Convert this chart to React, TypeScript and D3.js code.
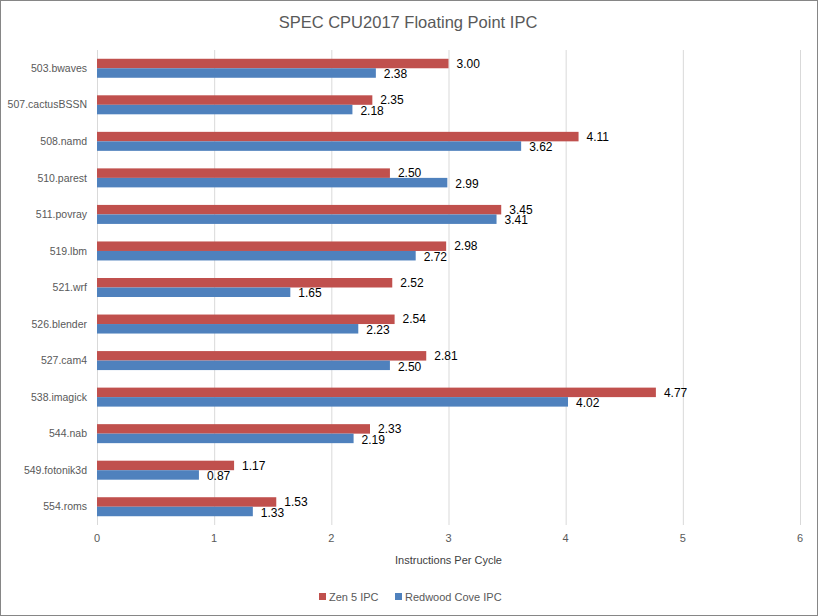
import { useEffect, useRef } from 'react';
import * as d3 from 'd3';

const benchmarks = [
  '503.bwaves',
  '507.cactusBSSN',
  '508.namd',
  '510.parest',
  '511.povray',
  '519.lbm',
  '521.wrf',
  '526.blender',
  '527.cam4',
  '538.imagick',
  '544.nab',
  '549.fotonik3d',
  '554.roms',
];
const zen5Ipc = [3.0, 2.35, 4.11, 2.5, 3.45, 2.98, 2.52, 2.54, 2.81, 4.77, 2.33, 1.17, 1.53];
const redwoodCoveIpc = [2.38, 2.18, 3.62, 2.99, 3.41, 2.72, 1.65, 2.23, 2.5, 4.02, 2.19, 0.87, 1.33];
const seriesNames = ['Zen 5 IPC', 'Redwood Cove IPC'];
const seriesColors = ['#C0504D', '#4F81BD'];
const xTicks = [0, 1, 2, 3, 4, 5, 6];

const FONT = '"Liberation Sans", Arial, sans-serif';

export default function App() {
  const ref = useRef<SVGSVGElement>(null);

  useEffect(() => {
    const svgElement = ref.current;
    if (!svgElement) {
      return;
    }
    const svg = d3.select(svgElement);
    svg.selectAll('*').remove();

    const width = 818;
    const height = 616;
    const left = 97;
    const right = 800;
    const top = 50;
    const bottom = 525;

    svg.attr('viewBox', `0 0 ${width} ${height}`).attr('width', width).attr('height', height);

    svg
      .append('rect')
      .attr('x', 0.5)
      .attr('y', 0.5)
      .attr('width', width - 1)
      .attr('height', height - 1)
      .attr('fill', '#ffffff')
      .attr('stroke', '#868686');

    const x = d3.scaleLinear().domain([0, 6]).range([left, right]);
    const y = d3.scaleBand<string>().domain(benchmarks).range([top, bottom]).paddingInner(0.48).paddingOuter(0.24);
    const inner = d3.scaleBand<number>().domain([0, 1]).range([0, y.bandwidth()]);

    // grid
    svg
      .append('g')
      .selectAll('line')
      .data(xTicks)
      .join('line')
      .attr('x1', (d) => x(d) + 0.5)
      .attr('x2', (d) => x(d) + 0.5)
      .attr('y1', top)
      .attr('y2', bottom)
      .attr('stroke', '#D9D9D9')
      .attr('stroke-width', 1);

    // title
    svg
      .append('text')
      .attr('x', 408)
      .attr('y', 28)
      .attr('text-anchor', 'middle')
      .attr('font-family', FONT)
      .attr('font-size', 16.5)
      .attr('fill', '#595959')
      .text('SPEC CPU2017 Floating Point IPC');

    // category labels
    svg
      .append('g')
      .selectAll('text')
      .data(benchmarks)
      .join('text')
      .attr('x', 87)
      .attr('y', (d) => (y(d) ?? 0) + y.bandwidth() / 2)
      .attr('dy', '0.35em')
      .attr('text-anchor', 'end')
      .attr('font-family', FONT)
      .attr('font-size', 10.5)
      .attr('fill', '#595959')
      .text((d) => d);

    // tick labels
    svg
      .append('g')
      .selectAll('text')
      .data(xTicks)
      .join('text')
      .attr('x', (d) => x(d))
      .attr('y', 542)
      .attr('text-anchor', 'middle')
      .attr('font-family', FONT)
      .attr('font-size', 11)
      .attr('fill', '#595959')
      .text((d) => String(d));

    svg
      .append('text')
      .attr('x', x(3))
      .attr('y', 564)
      .attr('text-anchor', 'middle')
      .attr('font-family', FONT)
      .attr('font-size', 11)
      .attr('fill', '#404040')
      .text('Instructions Per Cycle');

    const series = [zen5Ipc, redwoodCoveIpc];
    series.forEach((values, si) => {
      const g = svg.append('g');
      g.selectAll('rect')
        .data(values)
        .join('rect')
        .attr('x', x(0))
        .attr('y', (_d, i) => (y(benchmarks[i]) ?? 0) + (inner(si) ?? 0))
        .attr('width', (d) => x(d) - x(0))
        .attr('height', inner.bandwidth())
        .attr('fill', seriesColors[si]);
      g.selectAll('text')
        .data(values)
        .join('text')
        .attr('x', (d) => x(d) + 8)
        .attr('y', (_d, i) => (y(benchmarks[i]) ?? 0) + (inner(si) ?? 0) + inner.bandwidth() / 2 + (si === 1 ? 1 : 0))
        .attr('dy', '0.35em')
        .attr('font-family', FONT)
        .attr('font-size', 12)
        .attr('fill', '#000000')
        .text((d) => d.toFixed(2));
    });

    // legend
    const legendItems = [
      { name: seriesNames[0], color: seriesColors[0], x: 319 },
      { name: seriesNames[1], color: seriesColors[1], x: 395 },
    ];
    const legend = svg.append('g');
    legendItems.forEach((item) => {
      legend
        .append('rect')
        .attr('x', item.x)
        .attr('y', 593)
        .attr('width', 7)
        .attr('height', 7)
        .attr('fill', item.color);
      legend
        .append('text')
        .attr('x', item.x + 10)
        .attr('y', 597)
        .attr('dy', '0.35em')
        .attr('font-family', FONT)
        .attr('font-size', 11)
        .attr('fill', '#595959')
        .text(item.name);
    });
  }, []);

  return <svg ref={ref} style={{ position: 'absolute', left: 0, top: 0, display: 'block' }} />;
}
